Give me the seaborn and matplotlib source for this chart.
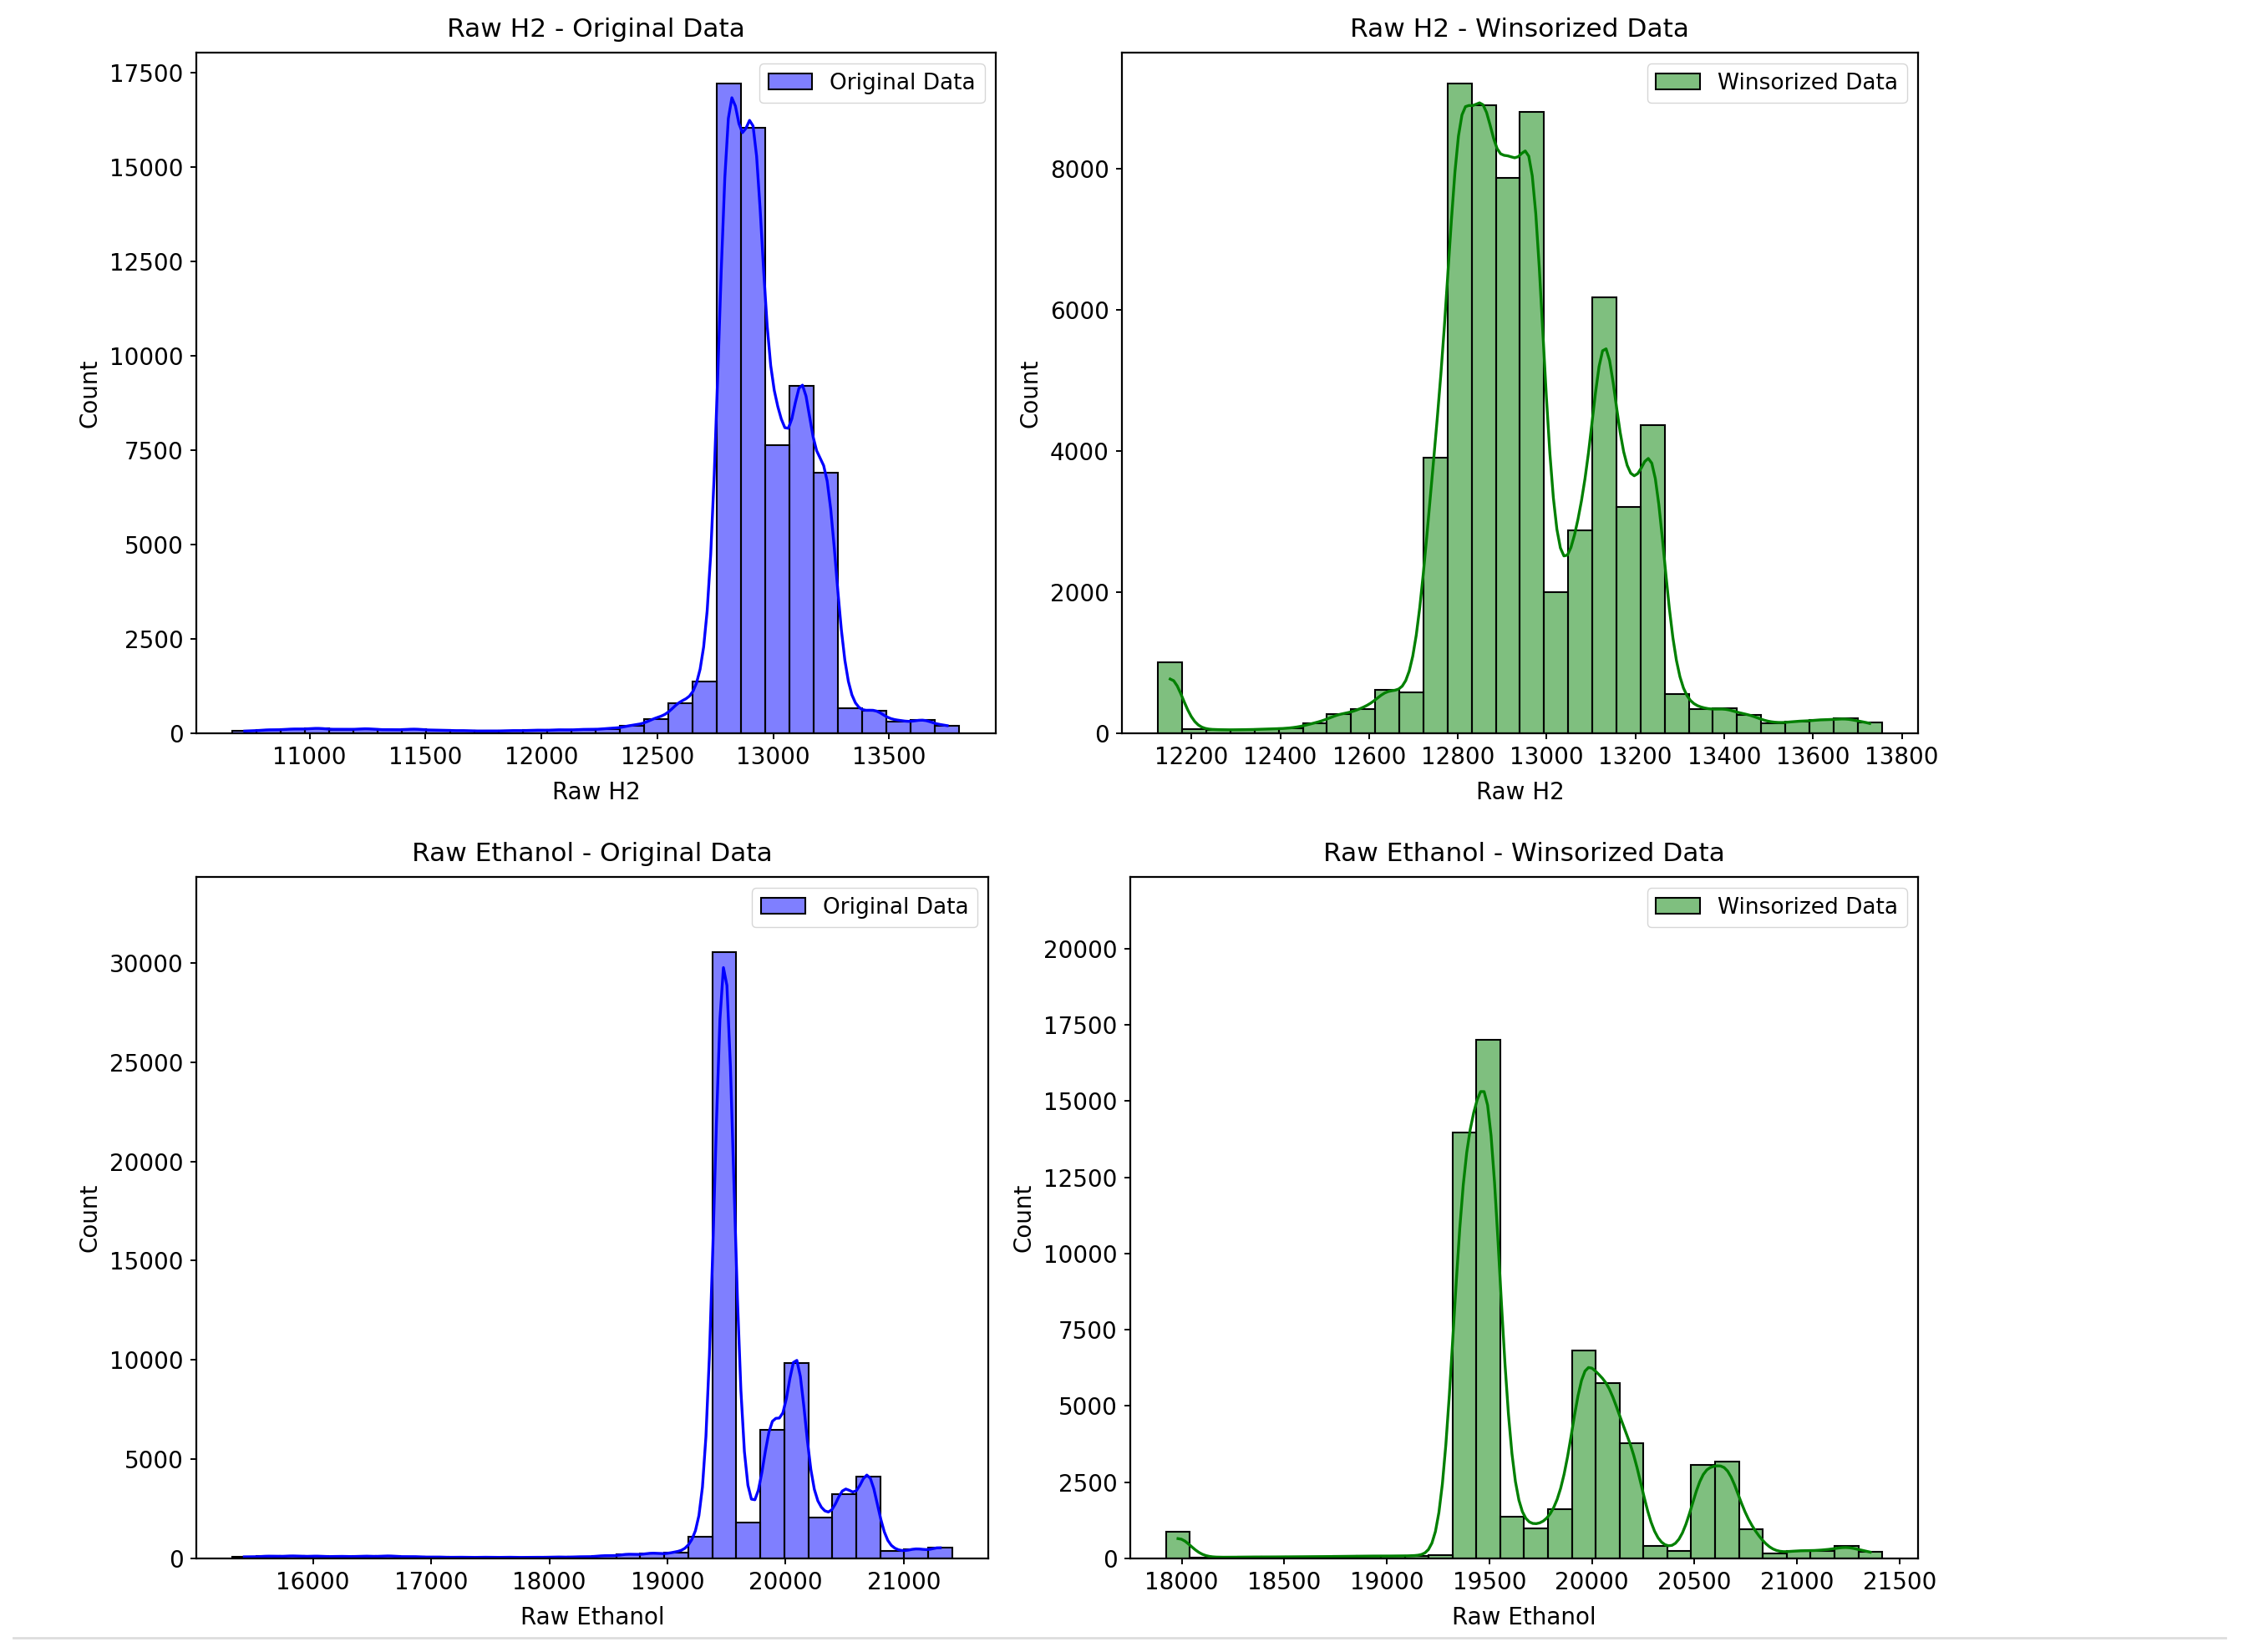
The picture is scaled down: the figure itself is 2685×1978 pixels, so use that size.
import numpy as np
import pandas as pd
import matplotlib
matplotlib.use("Agg")
import matplotlib.pyplot as plt
from matplotlib.lines import Line2D
import seaborn as sns

# ── Data: 30-bin counts ──────────────────────────────────────────────────────
h2_orig_range = (10668, 13803)
h2_orig_counts = [60, 90, 110, 130, 100, 120, 90, 110, 80, 70,
                  60, 70, 80, 90, 100, 120, 200, 380, 800, 1380,
                  17210, 16030, 7640, 9210, 6900, 660, 600, 310, 350, 200]

h2_wins_range = (12125, 13755)
h2_wins_counts = [1000, 60, 50, 50, 60, 70, 140, 270, 340, 620,
                  580, 3900, 9200, 8900, 7870, 8800, 2000, 2870, 6180, 3210,
                  4360, 560, 340, 350, 260, 140, 170, 190, 210, 150]

eth_orig_range = (15317, 21410)
eth_orig_counts = [80, 110, 120, 110, 100, 110, 120, 90, 70, 60,
                   60, 60, 60, 70, 80, 130, 200, 250, 280, 1110,
                   30530, 1800, 6490, 9860, 2070, 3260, 4110, 400, 450, 530]

eth_wins_range = (17923, 21415)
eth_wins_counts = [865, 40, 40, 50, 50, 60, 60, 70, 80, 80,
                   90, 120, 13960, 17010, 1380, 990, 1610, 6830, 5740, 3770,
                   415, 260, 3080, 3170, 950, 170, 260, 260, 400, 210]

# (column, kind, range, counts, colour, kde bw_adjust, y max)
panels = [
    ("Raw H2", "Original Data", h2_orig_range, h2_orig_counts, "blue", 0.2, 18030),
    ("Raw H2", "Winsorized Data", h2_wins_range, h2_wins_counts, "green", 0.2, 9640),
    ("Raw Ethanol", "Original Data", eth_orig_range, eth_orig_counts, "blue", 0.14, 34320),
    ("Raw Ethanol", "Winsorized Data", eth_wins_range, eth_wins_counts, "green", 0.16, 22340),
]

# axes boxes [left, bottom, width, height] in figure fractions
positions = [
    [0.0875, 0.5561, 0.3564, 0.4120],
    [0.5002, 0.5561, 0.3549, 0.4120],
    [0.0875, 0.0566, 0.3531, 0.4125],
    [0.5039, 0.0566, 0.3512, 0.4125],
]

plt.rcParams["axes.linewidth"] = 1.6
plt.rcParams["xtick.major.width"] = 1.4
plt.rcParams["ytick.major.width"] = 1.4
plt.rcParams["xtick.major.size"] = 5
plt.rcParams["ytick.major.size"] = 5

fig = plt.figure(figsize=(26.85, 19.78), dpi=100)

for (col, kind, rng, counts, color, bw, ymax), pos in zip(panels, positions):
    ax = fig.add_axes(pos)
    n = len(counts)
    step = (rng[1] - rng[0]) / n
    centers = rng[0] + step * (np.arange(n) + 0.5)
    df = pd.DataFrame({col: centers, "count": counts})
    sns.histplot(
        data=df, x=col, weights="count", bins=n, binrange=rng, kde=True,
        color=color, alpha=0.5, edgecolor="black", linewidth=1.5,
        kde_kws={"bw_adjust": bw}, line_kws={"linewidth": 2.4},
        label=kind, ax=ax,
    )
    ax.set_ylim(0, ymax)
    ax.set_title(f"{col} - {kind}", fontsize=22.5, pad=14)
    ax.set_xlabel(col, fontsize=20, labelpad=10)
    ax.set_ylabel("Count", fontsize=20, labelpad=7)
    ax.tick_params(labelsize=20, pad=6)
    ax.legend(fontsize=19, loc="upper right")

# notebook cell border at the bottom
fig.add_artist(Line2D([0.006, 0.992], [0.0085, 0.0085], color="#dddddd", linewidth=2))

fig.savefig("out.png", dpi=100, facecolor="white")
